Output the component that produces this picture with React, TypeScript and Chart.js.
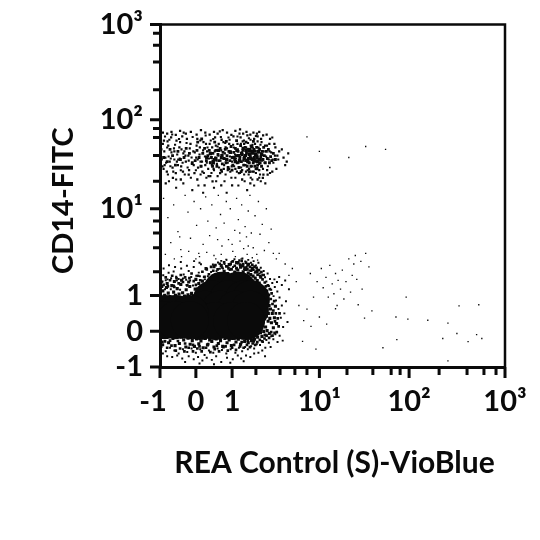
import React, { useEffect, useRef } from "react";
import { Chart, LinearScale, registerables } from "chart.js";

const AXIS_VALUES = [-1, 0, 1, 2, 4, 6, 8, 10, 20, 40, 60, 80, 100, 200, 400, 600, 800, 1000];
const AXIS_FRACTIONS = [0, 0.104, 0.209, 0.278, 0.348, 0.391, 0.426, 0.462, 0.542, 0.617, 0.67, 0.696, 0.722, 0.809, 0.89, 0.939, 0.974, 1];
const MAJOR_LABELS: Record<string, string> = { "-1": "-1", "0": "0", "1": "1", "10": "10¹", "100": "10²", "1000": "10³" };
const X_TITLE = "REA Control (S)-VioBlue";
const Y_TITLE = "CD14-FITC";

// Densest part of the lower population (x, y pairs)
const coreDots = [
0.72,1.15, 1.19,1.15, 0.44,0.886, 0.89,0.886, 1.41,0.886, 1.73,0.886,
0.25,0.6, 0.67,0.6, 1.12,0.6, 1.68,0.6, 0.11,0.286, 0.53,0.286, 1,0.286, 1.5,0.286,
-0.86,0.486, -0.56,0.486, -0.17,0.486, -0.86,0.31, -0.56,0.31, -0.17,0.31
];

// Thick speckle touching the core (x, y pairs)
const innerDots = [
-0.98,0.98,-0.92,1.14,-0.87,1.0,-0.82,1.26,-0.77,1.07,-0.72,0.97,-0.67,1.33,-0.62,1.1,-0.57,1.0,-0.52,1.22,
-0.47,1.04,-0.42,1.38,-0.37,1.08,-0.32,0.98,-0.27,1.18,-0.22,1.02,-0.17,1.3,-0.12,1.06,-0.07,0.99,-0.02,1.2,
0.03,1.05,0.08,1.42,0.12,1.1,0.16,0.98,0.2,1.25,0.24,1.12,-0.95,1.3,-0.8,1.42,-0.6,1.5,-0.4,1.56,
-0.2,1.48,0,1.6,0.18,1.52,0.3,1.18,0.35,1.4,0.39,1.62,0.44,1.3,0.48,1.78,0.53,1.46,0.58,1.7,
0.63,1.88,0.68,1.62,0.73,1.8,0.78,2.02,0.83,1.7,0.88,1.9,0.93,1.75,0.98,2.15,1.03,1.82,1.08,1.98,
1.13,1.74,1.18,2.1,1.23,1.86,1.28,2.28,1.33,1.78,1.38,2.0,1.43,1.8,1.48,2.14,1.54,1.7,1.6,1.92,
1.66,1.62,1.72,1.84,1.78,1.55,1.84,1.76,1.9,1.48,1.96,1.66,2.02,1.36,2.08,1.55,2.14,1.24,2.2,1.44,
2.26,1.08,2.32,1.3,2.38,0.98,2.44,1.16,2.5,0.86,2.56,1.02,2.62,0.74,2.68,0.95,2.74,0.62,2.8,0.84,
2.86,0.5,2.92,0.72,2.98,0.36,3.04,0.62,3.12,0.24,3.2,0.5,3.3,0.1,3.4,0.38,3.5,0.7,3.62,0.22,
2.2,0.72,2.3,0.58,2.36,0.42,2.48,0.26,2.54,0.54,2.64,0.12,2.7,0.42,2.76,0.02,2.84,0.28,2.94,-0.06,
2.2,0.12,2.28,-0.04,2.38,-0.14,2.5,0,2.6,-0.1,2.1,-0.16,2.0,-0.1,1.92,-0.22,1.84,-0.14,1.76,-0.26,
1.68,-0.18,1.6,-0.32,1.52,-0.2,1.44,-0.28,1.36,-0.18,1.28,-0.36,1.2,-0.22,1.12,-0.3,1.05,-0.19,0.98,-0.4,
0.92,-0.24,0.86,-0.32,0.8,-0.2,0.74,-0.42,0.68,-0.26,0.62,-0.34,0.56,-0.21,0.5,-0.44,0.44,-0.28,0.38,-0.24,
0.32,-0.38,0.26,-0.2,0.2,-0.46,0.14,-0.27,0.08,-0.35,0.02,-0.21,-0.04,-0.42,-0.1,-0.26,-0.16,-0.36,-0.22,-0.19,
-0.28,-0.44,-0.34,-0.24,-0.4,-0.16,-0.46,-0.34,-0.52,-0.13,-0.58,-0.4,-0.64,-0.2,-0.7,-0.12,-0.76,-0.32,-0.82,-0.17,
-0.88,-0.1,-0.94,-0.3,-0.98,-0.16,-0.91,-0.05,-0.79,-0.05,-0.66,-0.08,-0.54,-0.05,-0.42,-0.09,-0.3,-0.06,-0.16,-0.1,
0.28,2.2,0.5,2.32,0.7,2.4,0.92,2.46,1.14,2.6,1.36,2.36,1.58,2.44,1.8,2.2,2.06,2.02,2.3,1.7
];

// Second ring of speckle outside the first (x, y pairs)
const ringDots = [
-0.96,1.48,-0.9,1.36,-0.84,1.7,-0.78,1.3,-0.72,1.56,-0.66,1.78,-0.6,1.28,-0.54,1.66,-0.48,1.42,-0.42,1.82,
-0.36,1.48,-0.3,1.7,-0.24,1.34,-0.18,1.66,-0.12,1.9,-0.06,1.52,0,1.36,0.06,1.78,0.12,1.56,0.18,2.0,
0.24,1.72,0.3,2.14,0.36,1.86,0.42,2.3,0.48,2.06,0.54,2.42,0.6,2.14,0.66,2.52,0.72,2.26,0.78,2.62,
0.84,2.34,0.9,2.2,0.96,2.5,1.02,2.7,1.08,2.38,1.14,2.22,1.2,2.62,1.26,2.46,1.32,2.74,1.38,2.5,
1.44,2.26,1.5,2.6,1.56,2.14,1.62,2.5,1.68,2.3,1.74,2.06,1.8,2.44,1.86,2.12,1.92,2.32,1.98,1.98,
2.04,2.24,2.1,1.84,2.18,2.1,2.26,1.76,2.34,1.98,2.42,1.6,2.5,1.82,2.58,1.46,2.66,1.3,2.74,1.14,
2.82,1.34,2.9,1.02,2.98,1.2,3.06,0.9,3.14,1.06,3.22,0.76,3.3,0.58,3.38,0.84,3.46,0.28,3.54,0.5,
3.64,-0.02,3.74,0.36,3.84,0.14,3.94,0.5,3.1,-0.02,3.22,-0.12,3.42,-0.04,2.92,-0.18,2.72,-0.12,2.56,-0.2,
2.4,-0.28,2.24,-0.24,2.08,-0.3,1.96,-0.38,1.82,-0.34,1.68,-0.44,1.54,-0.38,1.4,-0.46,1.26,-0.42,1.12,-0.52,
1.0,-0.46,0.88,-0.54,0.76,-0.44,0.64,-0.56,0.52,-0.5,0.4,-0.58,0.28,-0.46,0.16,-0.56,0.04,-0.48,-0.08,-0.56,
-0.2,-0.46,-0.32,-0.56,-0.44,-0.48,-0.56,-0.54,-0.68,-0.4,-0.8,-0.46,-0.92,-0.38,-0.86,-0.28,-0.72,-0.26,-0.5,-0.27,
-0.3,-0.34,-0.08,-0.38,0.1,-0.42,0.34,-0.36,0.58,-0.4,0.82,-0.42,1.06,-0.38,1.32,-0.3,1.58,-0.26,1.88,-0.28
];

// Finer speckled fringe of the lower population (x, y pairs)
const fringeDots = [
-0.97,1.62,-0.91,1.81,-0.84,1.56,-0.76,1.94,-0.69,1.65,-0.62,2.02,-0.55,1.73,-0.48,1.62,-0.41,2.2,-0.34,1.84,
-0.27,1.58,-0.2,2.05,-0.13,1.71,-0.06,2.3,0.01,1.78,0.08,1.95,0.14,2.48,0.22,1.72,-0.9,2.2,-0.75,2.42,
-0.58,2.3,-0.42,2.66,-0.25,2.38,-0.05,2.72,0.1,2.6,-0.98,1.2,-0.93,1.5,-0.86,1.2,-0.79,1.6,-0.7,1.2,
-0.61,1.34,-0.53,1.55,-0.44,1.18,-0.36,1.64,-0.26,1.36,-0.16,1.55,-0.08,1.34,0.03,1.22,0.11,1.75,0.17,1.3,
0.25,1.6,0.33,1.75,0.38,1.52,0.42,1.98,0.47,2.46,0.52,1.85,0.57,2.05,0.61,2.62,0.66,2.18,0.7,2.74,
0.75,2.2,0.79,2.5,0.84,2.84,0.88,2.35,0.93,2.1,0.98,2.66,1.03,2.3,1.07,2.88,1.12,2.2,1.18,2.54,
1.23,2.78,1.29,2.42,1.35,2.94,1.41,2.15,1.47,2.7,1.53,2.3,1.6,2.82,1.66,2.08,1.73,2.6,1.8,2.25,
1.87,2.72,1.93,1.95,2.0,2.4,2.08,2.12,2.15,2.6,2.22,1.9,2.3,2.25,2.4,1.82,2.5,2.05,2.6,1.7,
2.7,1.5,2.8,1.9,2.9,1.32,3.0,1.62,3.1,1.18,3.2,1.44,3.32,0.98,3.44,1.28,3.56,0.86,3.7,1.12,
3.82,0.62,3.94,0.94,4.08,0.38,4.2,0.72,4.35,0.12,4.5,0.5,4.7,0.84,4.9,0.26,5.1,1.2,3.4,1.6,
3.66,1.48,3.9,1.72,4.2,1.36,4.6,1.55,3.1,-0.14,3.3,-0.22,3.5,-0.08,3.72,-0.3,3.95,-0.12,4.3,-0.26,
2.7,-0.24,2.9,-0.32,2.45,-0.3,2.25,-0.38,2.05,-0.36,2.62,-0.46,3.05,-0.44,1.9,-0.48,1.74,-0.42,1.58,-0.5,
1.46,-0.44,1.34,-0.56,1.22,-0.46,1.1,-0.6,0.96,-0.5,0.84,-0.62,0.72,-0.52,0.6,-0.48,0.48,-0.6,0.36,-0.54,
0.24,-0.66,0.12,-0.5,0,-0.6,-0.12,-0.48,-0.24,-0.58,-0.36,-0.5,-0.48,-0.62,-0.6,-0.54,-0.72,-0.46,-0.84,-0.56,
-0.96,-0.44,-0.92,-0.62,-0.8,-0.7,-0.66,-0.72,-0.52,-0.68,-0.38,-0.76,-0.2,-0.7,-0.06,-0.78,0.06,-0.72,0.18,-0.82,
0.3,-0.74,0.44,-0.8,0.56,-0.7,0.7,-0.86,0.86,-0.74,1.02,-0.78,1.18,-0.68,1.3,-0.76,1.5,-0.68,1.7,-0.72,
1.9,-0.62,2.15,-0.6,2.4,-0.54,0.1,-0.9,0.5,-0.92,0.95,-0.88,1.4,-0.84,-0.3,-0.86,2.6,-0.7
];

// Upper population around y = 40 (x, y pairs)
const upperDots = [
-0.95,36,-0.92,52,-0.9,28,-0.88,44,-0.86,62,-0.83,33,-0.8,48,-0.78,24,-0.76,39,-0.74,57,
-0.71,30,-0.68,43,-0.66,66,-0.63,26,-0.6,36,-0.58,51,-0.55,21,-0.52,41,-0.5,31,-0.47,58,
-0.45,37,-0.42,27,-0.4,46,-0.37,33,-0.34,70,-0.31,24,-0.29,40,-0.26,53,-0.23,29,-0.2,35,
-0.17,47,-0.14,22,-0.12,38,-0.09,61,-0.06,31,-0.03,43,0,27,0.02,50,0.05,36,0.07,18,
0.1,41,0.12,56,0.15,30,0.17,34,0.2,45,0.22,25,0.25,39,0.27,64,0.3,33,0.32,48,
0.34,28,0.36,37,0.38,52,0.4,23,0.42,42,0.44,31,0.46,35,0.48,58,0.5,27,0.52,44,
0.54,38,0.56,20,0.58,32,0.6,49,0.62,40,0.64,29,0.66,73,0.68,35,0.7,45,0.72,26,
0.74,37,0.76,54,0.78,31,0.8,42,0.82,24,0.84,36,0.86,47,0.88,33,0.9,60,0.92,28,
0.94,39,0.96,44,0.98,22,1.0,34,1.03,51,1.06,30,1.09,41,1.12,37,1.15,26,1.18,46,
1.21,33,1.24,68,1.27,39,1.3,29,1.33,43,1.36,55,1.39,35,1.42,24,1.45,40,1.48,31,
1.51,48,1.54,36,1.57,27,1.6,44,1.63,59,1.66,33,1.69,38,1.72,22,1.75,42,1.78,30,
1.81,51,1.84,36,1.88,26,1.92,45,1.96,34,2.0,63,2.04,40,2.08,29,2.12,37,2.16,48,
2.2,32,2.25,24,2.3,42,2.35,54,2.4,35,2.45,28,2.5,44,2.56,33,2.62,19,2.68,39,
2.75,50,2.82,30,2.9,36,3.0,25,3.1,43,3.2,60,3.3,33,3.45,40,3.6,28,3.8,36,
4.2,46,4.6,31,5.0,42,-0.75,20,-0.55,17,-0.35,19,-0.1,16,0.2,15,0.5,17,0.85,15,
1.2,18,1.55,16,1.9,18,2.3,20,0.28,52,0.41,56,0.55,50,0.69,61,0.81,53,0.93,57,
1.05,48,1.17,62,1.29,52,1.41,56,1.59,53,1.71,57,1.83,48,1.95,52,2.1,55,2.28,51,
0.13,24,0.29,22,0.43,25,0.6,23,0.79,20,0.95,26,1.1,22,1.26,25,1.44,20,1.62,24,
1.8,21,2.0,25,2.2,22,-0.96,46,-0.87,31,-0.79,55,-0.7,37,-0.61,47,-0.53,34,-0.44,54,-0.35,42
];

// Extra coverage of the upper population's left and top (x, y pairs)
const upperSpreadDots = [
-0.98,42,-0.93,30,-0.89,56,-0.85,38,-0.81,26,-0.77,50,-0.73,34,-0.69,60,-0.65,29,-0.6,44,
-0.56,25,-0.54,56,-0.49,36,-0.46,48,-0.41,30,-0.38,62,-0.36,26,-0.32,44,-0.28,34,-0.25,58,
-0.21,40,-0.19,27,-0.15,52,-0.11,32,-0.07,44,-0.04,25,0.01,38,0.04,58,0.06,29,0.11,48,
0.13,34,0.18,26,0.21,54,0.26,31,0.31,44,0.35,23,0.39,33,0.45,48,0.49,28,0.53,60,
0.57,35,0.63,52,0.67,25,0.71,57,0.77,28,0.82,48,0.88,27,0.92,52,0.99,30,1.04,62,
1.1,28,1.17,52,1.22,25,1.28,60,1.34,27,1.42,52,1.5,26,1.56,64,1.64,28,1.72,50,
1.8,26,1.9,58,1.99,28,2.1,62,2.2,27,2.32,58,2.48,24,2.6,50,2.76,27,2.94,52,
-0.92,70,-0.8,68,-0.68,72,-0.56,65,-0.44,74,-0.28,68,-0.14,72,0.02,66,0.14,76,0.26,70,
0.38,66,0.5,72,0.6,68,0.74,76,0.86,70,0.98,65,1.1,74,1.26,78,1.38,68,1.52,72,
1.7,66,1.86,70,2.06,68,2.2,72,2.46,64,2.72,66,3.0,58,3.4,52,-0.84,19,-0.64,22,
-0.42,21,-0.2,24,0.04,21,0.24,18,0.46,20,0.7,18,1.0,18,1.34,21,1.7,19,2.1,21,
2.44,22,2.8,24,3.2,26,3.5,48,3.9,44,4.4,38,4.8,34,2.96,44,3.24,36,3.7,40
];

// Darker middle band of the upper population (x, y pairs)
const upperBandDots = [
-0.9,38,-0.8,34,-0.72,46,-0.65,40,-0.57,31,-0.5,44,-0.43,36,-0.33,38,-0.27,47,-0.18,42,
-0.1,33,-0.02,35,0.03,45,0.09,38,0.14,30,0.19,42,0.24,47,0.29,35,0.33,40,0.37,45,
0.4,33,0.43,38,0.47,42,0.51,36,0.55,45,0.58,30,0.61,41,0.64,35,0.67,47,0.7,38,
0.73,32,0.75,43,0.78,37,0.81,46,0.83,33,0.86,40,0.89,29,0.91,44,0.94,35,0.97,49,
1.0,38,1.02,31,1.05,43,1.08,36,1.1,47,1.13,40,1.16,33,1.19,44,1.22,29,1.25,37,
1.28,50,1.31,34,1.34,41,1.37,45,1.4,31,1.43,38,1.46,48,1.49,35,1.52,42,1.55,30,
1.58,46,1.61,37,1.64,33,1.67,44,1.7,40,1.73,30,1.76,49,1.79,36,1.82,42,1.85,33,
1.88,46,1.91,38,1.94,30,1.97,44,2.0,35,2.04,48,2.07,40,2.1,31,2.14,43,2.18,36,
2.22,46,2.26,33,2.3,39,2.35,30,2.4,44,2.45,36,2.5,48,2.55,40,2.62,33,2.7,44,
2.78,37,2.86,46,2.95,33,3.05,39,3.15,35,3.3,42,3.5,36,0.05,54,0.16,58,0.46,30,
0.52,54,0.7,27,0.84,55,1.0,27,1.14,56,1.3,26,1.5,54,1.66,26,1.86,55,2.06,28
];

// Near-solid centre of the upper population (x, y pairs)
const upperCoreDots = [
0.72,40,0.85,36,0.95,43,1.06,38,1.15,45,1.24,35,1.32,42,1.42,37,1.5,45,1.58,34,
1.65,41,1.74,37,1.82,44,1.9,35,1.98,41,2.06,38,2.16,44,2.26,36,2.36,41,0.55,37,
0.4,42,0.62,45,1.1,34,1.38,47,1.68,46,2.1,34,1.2,40,1.47,40,0.3,38,0.48,33
];

// Sparse events between the two populations (x, y pairs)
const middleDots = [
-0.9,13,-0.78,8.5,-0.7,4.6,-0.62,11,-0.5,6.2,-0.42,3.8,-0.3,14,-0.22,9.4,-0.15,5.2,-0.05,12,
0.02,7.2,0.08,3.4,0.13,10,0.2,4.4,0.27,13.5,0.33,8,0.38,5.6,0.44,11,0.5,3.2,0.56,6.8,
0.62,14,0.68,9,0.72,4.2,0.78,7.6,0.84,12,0.9,5,0.95,10,1.02,3.6,1.08,6.4,1.14,13,
1.2,8.2,1.26,4.8,1.32,11,1.4,3.9,1.46,7,1.52,5.4,1.6,9.6,1.68,14,1.75,6,1.85,4,
1.95,8.8,2.05,3.3,2.15,12,2.25,5.8,2.4,7.4,2.55,3.7,2.7,10,2.9,4.6,3.1,6.6,3.3,3.4,
0.1,3.1,0.3,3.5,0.55,2.9,0.7,3.3,0.85,2.8,1.1,3.1,1.3,2.9,1.55,3.3,1.8,3.0,2.1,2.8,
-0.85,3.3,-0.6,2.9,-0.4,3.1,-0.2,3.6,0,2.9,-0.45,5.4,0.6,5,1.0,4.4,1.25,6,1.6,4.2,
3.6,2.9,4.6,2.5,5.6,2.2,3.9,3.4,5.1,1.8,6.2,1.5
];

// Scattered events to the right (x, y pairs)
const rightDots = [
8.5,1.9,9.6,1.5,10.5,2.2,11,1.25,11.8,1.7,12.5,0.95,13,2.4,13.8,1.4,14.4,1.05,15,1.9,
15.6,0.72,16,1.55,17,1.2,17.8,2.1,18.5,0.9,19.5,1.5,21,2.9,22,1.1,23,1.8,24,2.5,
25,3.2,26,1.6,27,0.74,29,2.7,30,1.2,32,0.37,33,3.4,36,2.3,39,0.57,9,0.95,
8,0.62,7.4,0.3,6.6,0.72,7.2,-0.28,8.6,0.14,10,0.4,12,0.2,9.4,-0.5,15,0.63,50,-0.46,
70,0.4,72,-0.23,93,0.95,97,0.34,154,0.31,219,-0.2,249,0.23,249,-0.83,311,-0.06,328,0.71,
410,-0.29,503,-0.09,530,0.74,570,-0.2,21,38,53,46,33,49,10,44,13,29,8,61
];

function frac(v: number): number {
  const n = AXIS_VALUES.length;
  if (v <= AXIS_VALUES[0]) return AXIS_FRACTIONS[0];
  if (v >= AXIS_VALUES[n - 1]) return AXIS_FRACTIONS[n - 1];
  let i = 0;
  while (v > AXIS_VALUES[i + 1]) i++;
  const a = AXIS_VALUES[i], b = AXIS_VALUES[i + 1];
  const t = a >= 1 ? Math.log(v / a) / Math.log(b / a) : (v - a) / (b - a);
  return AXIS_FRACTIONS[i] + t * (AXIS_FRACTIONS[i + 1] - AXIS_FRACTIONS[i]);
}

class BiexScale extends LinearScale {
  static id = "biex";
  static defaults = {};
  buildTicks() {
    this.min = AXIS_VALUES[0];
    this.max = AXIS_VALUES[AXIS_VALUES.length - 1];
    return AXIS_VALUES.map((value) => ({ value, major: String(value) in MAJOR_LABELS }));
  }
  getPixelForValue(value: number) {
    return this.getPixelForDecimal(frac(value));
  }
  _computeLabelItems(chartArea: any) {
    const items = (super._computeLabelItems as any)(chartArea);
    const nudge = (this.options as any).firstLabelNudge || 0;
    if (nudge && items[0] && items[0].options && items[0].options.translation) {
      items[0].options.translation[0] += nudge;
    }
    return items;
  }
  drawTitle() {
    const shift = (this.options as any).titleShift || [0, 0];
    this.ctx.save();
    this.ctx.translate(shift[0], shift[1]);
    super.drawTitle();
    this.ctx.restore();
  }
}

Chart.register(...registerables, BiexScale);

const pairs = (flat: number[]) => {
  const out: { x: number; y: number }[] = [];
  for (let i = 0; i + 1 < flat.length; i += 2) out.push({ x: flat[i], y: flat[i + 1] });
  return out;
};

const dotSet = (label: string, flat: number[], radius: number, style = "rect") => ({
  label,
  data: pairs(flat),
  pointRadius: radius,
  pointStyle: style,
  pointBackgroundColor: "#0a0a0a",
  pointBorderWidth: 0,
  showLine: false,
});

const ticksPlugin = {
  id: "frameTicks",
  afterDraw(chart: any) {
    const { ctx, chartArea: a, scales } = chart;
    ctx.save();
    ctx.strokeStyle = "#0a0a0a";
    ctx.lineWidth = 2.5;
    ctx.beginPath();
    ctx.moveTo(a.left, a.top);
    ctx.lineTo(a.right, a.top);
    ctx.lineTo(a.right, a.bottom);
    ctx.stroke();
    ctx.lineWidth = 3;
    ctx.beginPath();
    for (const t of scales.x.ticks) {
      const p = scales.x.getPixelForValue(t.value);
      ctx.moveTo(p, a.bottom);
      ctx.lineTo(p, a.bottom + (t.major ? 11 : 8));
    }
    for (const t of scales.y.ticks) {
      const p = scales.y.getPixelForValue(t.value);
      ctx.moveTo(a.left, p);
      ctx.lineTo(a.left - (t.major ? 10 : 7), p);
    }
    ctx.stroke();
    ctx.restore();
  },
};

const FONT = "Lato";

function axis(title: string, extra: any) {
  return {
    type: "biex",
    min: -1,
    max: 1000,
    offset: false,
    grid: { display: true, drawOnChartArea: false, tickColor: "transparent", tickLength: 10 },
    border: { display: true, color: "#0a0a0a", width: 3 },
    ticks: {
      autoSkip: false,
      minRotation: 0,
      maxRotation: 0,
      color: "#0a0a0a",
      font: { family: FONT, size: 29, weight: "bold" },
      callback: (v: number) => MAJOR_LABELS[String(v)] ?? "",
      ...extra.ticks,
    },
    title: {
      display: true,
      text: title,
      color: "#0a0a0a",
      font: { family: FONT, size: extra.titleSize, weight: "bold" },
      ...extra.title,
    },
    afterFit: extra.afterFit,
    titleShift: extra.titleShift,
    firstLabelNudge: extra.firstLabelNudge,
  };
}

export default function App() {
  const ref = useRef<HTMLCanvasElement>(null);
  useEffect(() => {
    const chart = new Chart(ref.current as HTMLCanvasElement, {
      type: "scatter",
      data: {
        datasets: [
          dotSet("Core", coreDots, 19, "circle"),
          dotSet("Inner", innerDots, 2.2),
          dotSet("Ring", ringDots, 1.9),
          dotSet("Fringe", fringeDots, 1.4),
          dotSet("Upper", upperDots, 1.5),
          dotSet("Upper spread", upperSpreadDots, 1.6),
          dotSet("Upper band", upperBandDots, 2),
          dotSet("Upper core", upperCoreDots, 2.4),
          dotSet("Middle", middleDots, 0.95),
          dotSet("Right", rightDots, 0.95),
        ],
      },
      options: {
        animation: false,
        responsive: false,
        layout: { padding: { top: 22, right: 35, left: 0, bottom: 0 } },
        plugins: { legend: { display: false }, tooltip: { enabled: false } },
        scales: {
          x: axis(X_TITLE, {
            titleSize: 30,
            ticks: { padding: 7 },
            title: { padding: { top: 0, bottom: 59 } },
            afterFit: (s: any) => { s.height = 173; },
            titleShift: [2, 0],
            firstLabelNudge: -7,
          }),
          y: axis(Y_TITLE, {
            titleSize: 29,
            ticks: { padding: 7 },
            title: { padding: { top: 46, bottom: 0 } },
            afterFit: (s: any) => { s.width = 160; },
            titleShift: [0, 5],
          }),
        },
      } as any,
      plugins: [ticksPlugin],
    });
    return () => chart.destroy();
  }, []);
  return (
    <div style={{ position: "absolute", left: 0, top: 0, width: 540, height: 540, background: "#fff" }}>
      <canvas ref={ref} width={540} height={540} style={{ display: "block" }} />
    </div>
  );
}
